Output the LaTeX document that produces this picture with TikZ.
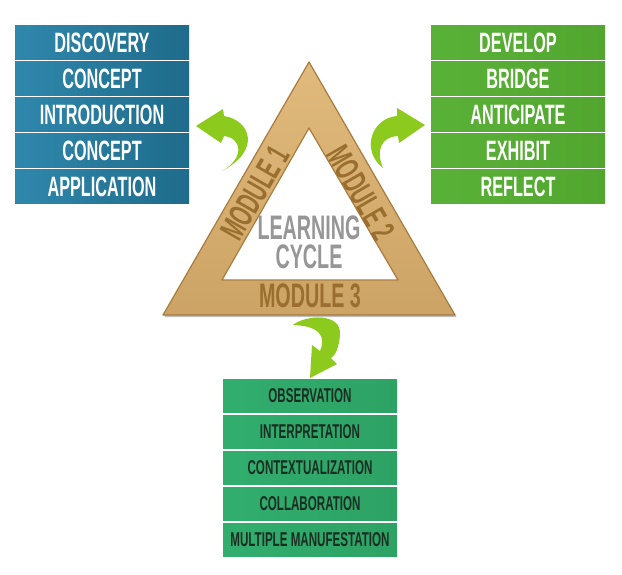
\documentclass[tikz,border=0pt]{standalone}
\usepackage{fontspec}
\newfontfamily\cf{Liberation Sans}[FakeStretch=0.58]
\usetikzlibrary{shadings,calc}
\definecolor{blueA}{HTML}{2F88AC}
\definecolor{blueM}{HTML}{3B96B9}
\definecolor{blueB}{HTML}{1F6B8B}
\definecolor{grnA}{HTML}{5AB138}
\definecolor{grnM}{HTML}{74C64C}
\definecolor{grnB}{HTML}{52A62F}
\definecolor{tealA}{HTML}{31AE6E}
\definecolor{tealM}{HTML}{4AC687}
\definecolor{tealB}{HTML}{2DA264}
\definecolor{tealtxt}{HTML}{1A2D22}
\definecolor{lime}{HTML}{8CCB1E}
\definecolor{tan}{HTML}{DDB26E}
\definecolor{tanD}{HTML}{A97C3E}
\definecolor{modtxt}{HTML}{9A6E2E}
\definecolor{cyctxt}{HTML}{969696}
\begin{document}
\begin{tikzpicture}[x=1pt,y=-1pt,
  rowbox/.style={minimum width=174pt,inner sep=0pt,text height=20pt,text depth=0pt,
     font=\cf\bfseries\fontsize{28}{28}\selectfont,text=white},
  bluerow/.style={rowbox,minimum height=34pt,left color=blueA,middle color=blueM,right color=blueB},
  grnrow/.style={rowbox,minimum height=34pt,left color=grnA,middle color=grnM,right color=grnB},
  tealrow/.style={rowbox,minimum height=33pt,left color=tealA,middle color=tealM,right color=tealB,
     text=tealtxt,text height=14pt,font=\cf\bfseries\fontsize{20}{20}\selectfont},
  modlabel/.style={inner sep=0pt,text=modtxt,font=\cf\bfseries\fontsize{34}{34}\selectfont},
  cyclabel/.style={inner sep=0pt,text=cyctxt,font=\cf\bfseries\fontsize{34}{34}\selectfont},
  arrowshape/.style={fill=lime}]
\useasboundingbox (0,0) rectangle (622,574);
\fill[white] (0,0) rectangle (622,574);
% left box
\node[bluerow] (b1) at (102,42) {DISCOVERY};
\node[bluerow] (b2) at (102,78) {CONCEPT};
\node[bluerow] (b3) at (102,114) {INTRODUCTION};
\node[bluerow] (b4) at (102,150) {CONCEPT};
\node[bluerow] (b5) at (102,186) {APPLICATION};
% right box
\node[grnrow] (g1) at (518,42) {DEVELOP};
\node[grnrow] (g2) at (518,78) {BRIDGE};
\node[grnrow] (g3) at (518,114) {ANTICIPATE};
\node[grnrow] (g4) at (518,150) {EXHIBIT};
\node[grnrow] (g5) at (518,186) {REFLECT};
% bottom box
\node[tealrow] (t1) at (310,395.5) {OBSERVATION};
\node[tealrow] (t2) at (310,431.5) {INTERPRETATION};
\node[tealrow] (t3) at (310,467.5) {CONTEXTUALIZATION};
\node[tealrow] (t4) at (310,503.5) {COLLABORATION};
\node[tealrow] (t5) at (310,539.5) {MULTIPLE MANUFESTATION};
% triangle
\coordinate (A) at (309,62);
\coordinate (B) at (163,315);
\coordinate (C) at (455,315);
\coordinate (D) at (309,128);
\coordinate (E) at (222,280);
\coordinate (F) at (398,280);
\fill[black!25] ($(A)+(1.5,2)$) -- ($(B)+(1.5,2)$) -- ($(C)+(1.5,2)$) -- cycle;
\shade[top color=tan!90!white,bottom color=tan!92!black,draw=tanD,line width=1.2pt,line join=round] (A) -- (B) -- (C) -- cycle;
\fill[white,draw=tanD,line width=1.2pt,line join=round] (D) -- (E) -- (F) -- cycle;
\node[modlabel,rotate=60] (m1) at (255,193) {MODULE 1};
\node[modlabel,rotate=-60] (m2) at (361,193) {MODULE 2};
\node[modlabel] (m3) at (310,296) {MODULE 3};
\node[cyclabel] (lc1) at (309,228) {LEARNING};
\node[cyclabel] (lc2) at (309,257) {CYCLE};
% arrows
\fill[arrowshape] (196,126) -- (223,109) -- (224,116)
   .. controls (250,120) and (262,150) .. (222,171)
   .. controls (245,158) and (242,138) .. (224,136) -- (221,143) -- cycle;
\fill[arrowshape] (425,125) -- (397,108) -- (397,116)
   .. controls (372,118) and (360,150) .. (383,168)
   .. controls (376,152) and (380,137) .. (398,136) -- (399,143) -- cycle;
\fill[arrowshape] (293,325) .. controls (305,315) and (342,312) .. (340,335)
   .. controls (339,348) and (335,356) .. (331,358) -- (337,364) -- (310,378)
   -- (312,345) -- (320,351) .. controls (325,340) and (324,326) .. (293,325) -- cycle;
\end{tikzpicture}
\end{document}
